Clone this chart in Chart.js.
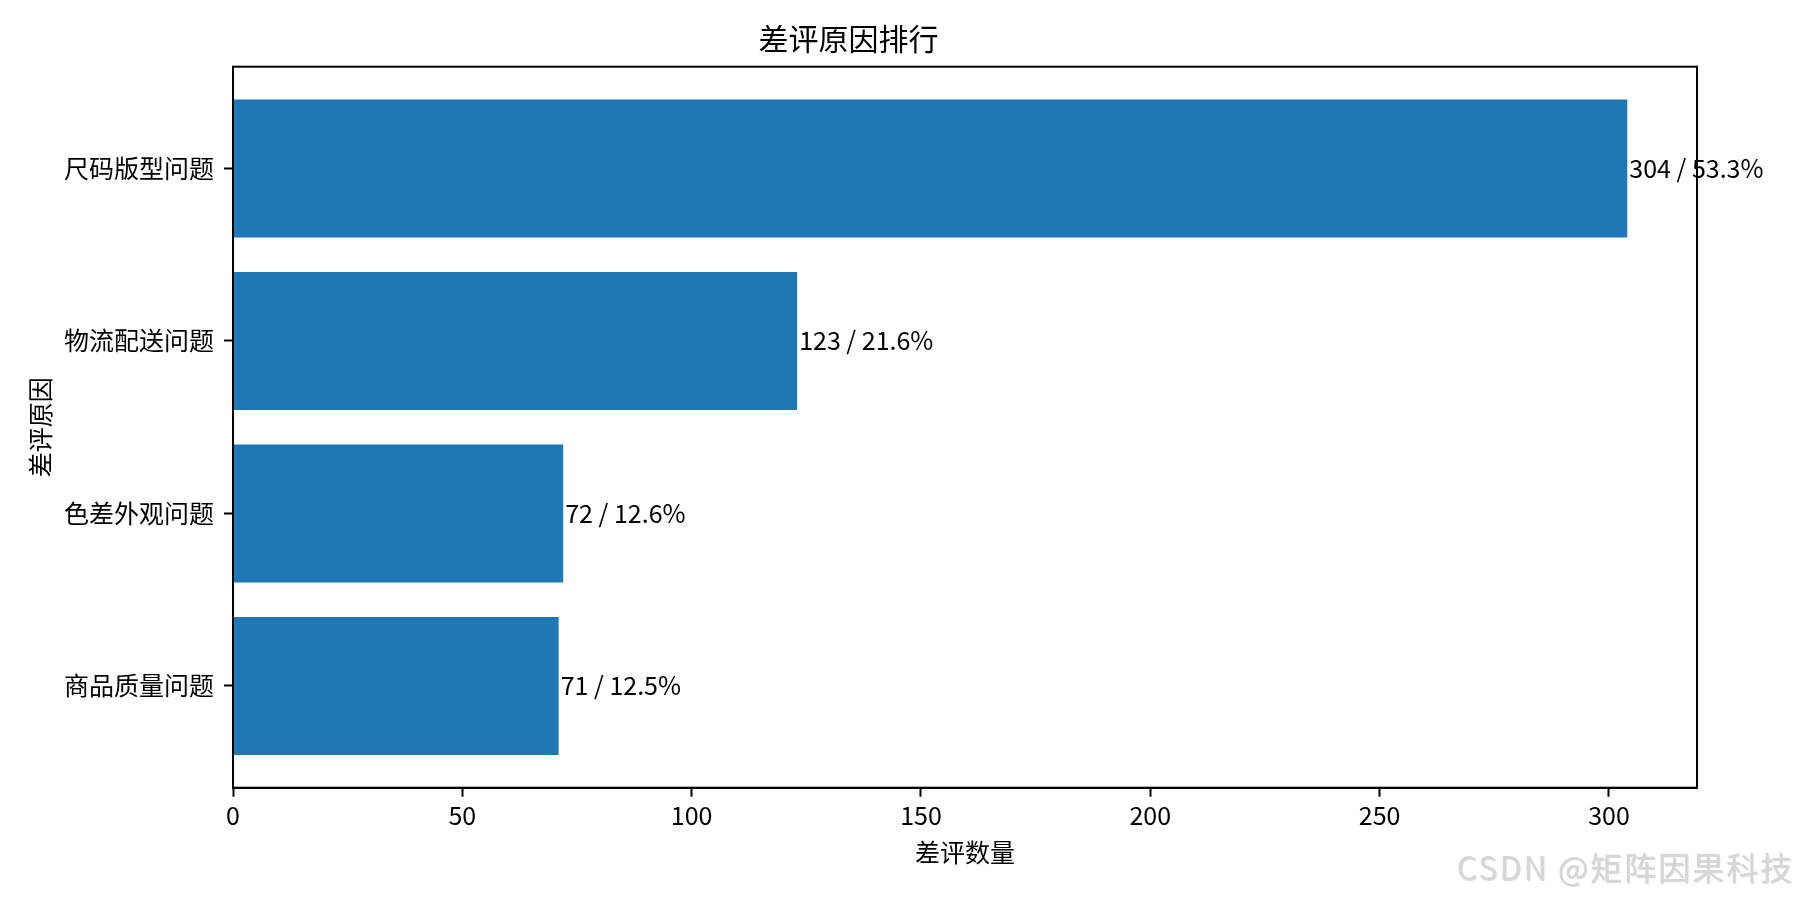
<!DOCTYPE html>
<html>
<head>
<meta charset="utf-8">
<script src="https://cdn.jsdelivr.net/npm/chart.js@4/dist/chart.umd.min.js"></script>
<style>
  html, body { margin: 0; padding: 0; background: #ffffff; }
  #wrap { width: 1800px; height: 900px; position: relative; }
</style>
</head>
<body>
<div id="wrap"><canvas id="c" width="1800" height="900"></canvas></div>
<script>
// ---- data ----
const categories = ["尺码版型问题", "物流配送问题", "色差外观问题", "商品质量问题"];
const counts = [304, 123, 72, 71];
const xTicks = [0, 50, 100, 150, 200, 250, 300];
const titleText = "差评原因排行";
const xTitle = "差评数量";
const yTitle = "差评原因";
const watermark = "CSDN @矩阵因果科技";

const total = counts.reduce((a, b) => a + b, 0);
const FONT = "'Noto Sans CJK SC', 'Noto Sans', sans-serif";

const barLabels = {
  id: 'barLabels',
  afterDatasetsDraw(chart) {
    const ctx = chart.ctx;
    const meta = chart.getDatasetMeta(0);
    ctx.save();
    ctx.font = "25px " + FONT;
    ctx.fillStyle = "#000";
    ctx.textAlign = "left";
    ctx.textBaseline = "middle";
    meta.data.forEach((el, i) => {
      const v = counts[i];
      const pct = (v / total * 100).toFixed(1);
      ctx.fillText(v + " / " + pct + "%", el.x + 2, el.y);
    });
    ctx.restore();
  }
};

const frame = {
  id: 'frame',
  afterDraw(chart) {
    const a = chart.chartArea;
    const ctx = chart.ctx;
    ctx.save();
    ctx.strokeStyle = "#000";
    ctx.lineWidth = 2;
    ctx.strokeRect(a.left, a.top, a.right - a.left, a.bottom - a.top);
    ctx.font = "32px " + FONT;
    try { ctx.letterSpacing = "2px"; } catch (e) {}
    ctx.textAlign = "right";
    ctx.textBaseline = "middle";
    ctx.fillStyle = "rgba(150,150,150,0.35)";
    ctx.fillText(watermark, 1795, 869);
    ctx.fillStyle = "#d6d6d6";
    ctx.fillText(watermark, 1794, 868);
    ctx.restore();
  }
};

new Chart(document.getElementById('c'), {
  type: 'bar',
  data: {
    datasets: [{
      data: categories.map((c, i) => ({ x: counts[i], y: i })),
      backgroundColor: '#1f77b4',
      borderWidth: 0,
      barPercentage: 0.8,
      categoryPercentage: 1.0
    }]
  },
  options: {
    indexAxis: 'y',
    responsive: false,
    animation: false,
    devicePixelRatio: 1,
    layout: { padding: { left: 0, right: 103, top: 0, bottom: 0 } },
    plugins: {
      legend: { display: false },
      tooltip: { enabled: false },
      title: {
        display: true,
        text: titleText,
        color: '#000',
        font: { family: FONT, size: 30, weight: 'normal', lineHeight: 1.2 },
        padding: { top: 21, bottom: 9.7 }
      }
    },
    scales: {
      x: {
        type: 'linear',
        position: 'bottom',
        min: 0,
        max: 319.2,
        offset: false,
        afterFit(s) { s.height = 112.3; },
        afterBuildTicks(s) { s.ticks = xTicks.map(v => ({ value: v })); },
        ticks: {
          color: '#000',
          font: { family: FONT, size: 25, lineHeight: 1.2 },
          padding: 4,
          maxRotation: 0,
          autoSkip: false
        },
        grid: {
          display: true,
          offset: false,
          drawOnChartArea: false,
          drawTicks: true,
          tickLength: 9,
          tickWidth: 2,
          tickColor: '#000'
        },
        border: { display: true, color: '#000', width: 2 },
        title: {
          display: true,
          text: xTitle,
          color: '#000',
          font: { family: FONT, size: 25, lineHeight: 1.2 },
          padding: { top: 0, bottom: 33 }
        }
      },
      y: {
        type: 'linear',
        position: 'left',
        reverse: true,
        min: -0.59,
        max: 3.59,
        offset: false,
        afterFit(s) { s.width = 233; },
        afterBuildTicks(s) { s.ticks = categories.map((c, i) => ({ value: i })); },
        ticks: {
          color: '#000',
          font: { family: FONT, size: 25, lineHeight: 1.2 },
          padding: 10,
          autoSkip: false,
          callback: (v) => categories[v]
        },
        grid: {
          display: true,
          offset: false,
          drawOnChartArea: false,
          drawTicks: true,
          tickLength: 9,
          tickWidth: 2,
          tickColor: '#000'
        },
        border: { display: true, color: '#000', width: 2 },
        title: {
          display: true,
          text: yTitle,
          color: '#000',
          font: { family: FONT, size: 25, lineHeight: 1.2 },
          padding: { top: 25, bottom: 0 }
        }
      }
    }
  },
  plugins: [barLabels, frame]
});
</script>
</body>
</html>
